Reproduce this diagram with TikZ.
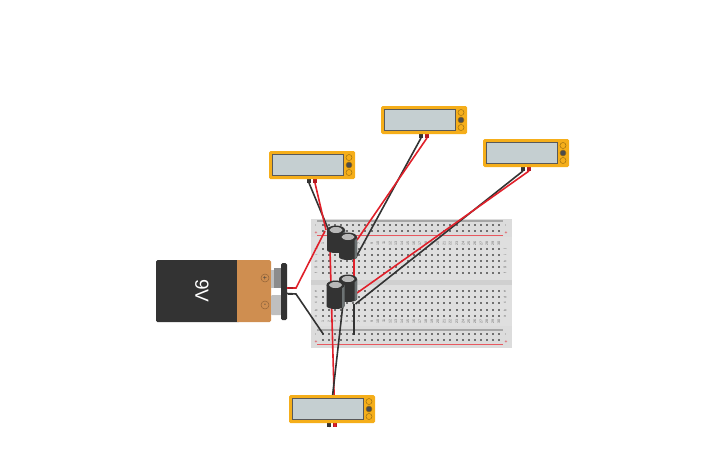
\documentclass[tikz,border=0pt]{standalone}
\usepackage{xcolor}
\usepackage{fontspec}
\setmainfont{Liberation Sans}
\usepackage{tikz}
\usetikzlibrary{backgrounds}
\usetikzlibrary{positioning}
\definecolor{wirered}{HTML}{E0202A}
\definecolor{wiredark}{HTML}{333333}
\definecolor{meterorange}{HTML}{F5AE1A}
\definecolor{screengrey}{HTML}{C5CFD1}
\definecolor{boardgrey}{HTML}{DFDFDF}
\definecolor{railgrey}{HTML}{DCDCDC}
\definecolor{gutter}{HTML}{D0D0D0}
\definecolor{holegrey}{HTML}{707070}
\definecolor{batteryorange}{HTML}{CF8E50}
\tikzset{meterbody/.style={draw=none,fill=meterorange,rounded corners=1.5pt,minimum width=86pt,minimum height=28pt,inner sep=0pt}}
\tikzset{meterscreen/.style={draw=black!65,fill=screengrey,line width=1pt,minimum width=71pt,minimum height=21pt,inner sep=0pt}}
\tikzset{meterknob/.style={circle,draw=black!35!meterorange,line width=0.5pt,minimum size=6pt,inner sep=0pt}}
\tikzset{probe/.style={minimum width=3.4pt,minimum height=4.5pt,inner sep=0pt,draw=none}}
\tikzset{wire/.style={line width=1.6pt}}
\tikzset{hole/.style={fill=holegrey}}
\tikzset{boardtext/.style={font=\fontsize{3.6}{3.6}\selectfont,text=black!60,inner sep=0pt}}
\tikzset{battmark/.style={circle,draw=black!30!batteryorange,line width=0.5pt,minimum size=8pt,inner sep=0pt,font=\fontsize{7}{7}\selectfont,text=black!75}}
\begin{document}
\begin{tikzpicture}[x=1pt,y=-1pt]
\useasboundingbox (0,0) rectangle (725,453);
% breadboard
\fill[boardgrey] (311,219) rectangle (512,348);
\fill[railgrey] (311,219) rectangle (512,237);
\fill[railgrey] (311,326) rectangle (512,348);
\fill[gutter] (311,280) rectangle (512,285);
\draw[black!35,line width=1.2pt] (317,221) -- (503,221);
\draw[black!35,line width=1.2pt] (317,330) -- (503,330);
\draw[wirered!75,line width=0.7pt] (317,235) -- (503,235);
\draw[wirered!75,line width=0.7pt] (317,344.5) -- (503,344.5);
\foreach \i in {0,...,29}
{
\pgfmathsetmacro{\hx}{round(323+6.07*\i)}
\foreach \y in {225,231,249,255,261,267,273,291,297,303,310,316,334,340}
 \fill[hole] (\hx-1,\y-1) rectangle +(2,2);
\pgfmathtruncatemacro{\num}{\i+1}
\node[boardtext,rotate=90] at (\hx,243) {\num};
\node[boardtext,rotate=90] at (\hx,321) {\num};
}
\foreach \y/\t in {249/j,255/i,261/h,267/g,273/f,291/e,297/d,303/c,310/b,316/a}
{
\node[boardtext,rotate=90] at (316,\y) {\t};
\node[boardtext,rotate=90] at (505,\y) {\t};
}
\foreach \y/\t in {225/--,334/--}
{
\node[boardtext,rotate=90] at (316,\y) {\t};
\node[boardtext,rotate=90] at (506,\y) {\t};
}
\foreach \y in {233.5,342.5}
{
\node[boardtext,text=wirered,font=\fontsize{5}{5}\selectfont] at (316,\y) {+};
\node[boardtext,text=wirered,font=\fontsize{5}{5}\selectfont] at (506,\y) {+};
}
% battery
\fill[wiredark,rounded corners=1.5pt] (156,260) rectangle (240,322);
\fill[batteryorange,rounded corners=1.5pt] (237,260) rectangle (271,322);
\fill[batteryorange] (237,260) rectangle (250,322);
\node[text=white,rotate=-90,font=\fontsize{19}{19}\selectfont,inner sep=0pt] (nine) at (202,291) {9V};
\node[battmark] (plus) at (265,278) {+};
\node[battmark] (minus) at (265,305) {-};
\fill[black!25] (271,270) rectangle (275,288);
\fill[black!45] (274,268) rectangle (282,288);
\fill[black!25,rounded corners=1pt] (271,295) rectangle (282,315);
\fill[wiredark,rounded corners=1.5pt] (281,263) rectangle (287,320);
% named ends
\coordinate (snapred) at (296,288);
\coordinate (snapdark) at (296,294);
\coordinate (railred) at (325,231);
\coordinate (raildark) at (323.5,334.5);
\coordinate (capa) at (329,231);
\coordinate (capb) at (326,230);
\coordinate (capc) at (357,240);
\coordinate (capd) at (355.5,258);
\coordinate (cape) at (357,293);
\coordinate (capf) at (355.5,304);
\coordinate (capg) at (330,250);
\coordinate (caph) at (343,304);
\coordinate (capi) at (354,258);
\coordinate (capj) at (354,276);
\coordinate (capk) at (354,304);
\coordinate (capl) at (354,334.5);
% meters, wires go under them
\foreach \name/\cx/\cy in {mone/312/165,mtwo/424/120,mthree/526/153,mfour/332/409}
{
\node[probe,fill=wiredark] (\name-dark) at (\cx-3,\cy+15.5) {};
\node[probe,fill=wirered!80!black] (\name-red) at (\cx+3,\cy+15.5) {};
}
\draw[wire,wirered] (mfour-red.south) -- (capg);
\draw[wire,wiredark] (mfour-dark.south) -- (caph);
\draw[wire,wiredark] (mone-dark.south) -- (capa);
\draw[wire,wirered] (mone-red.south) -- (capb);
\draw[wire,wiredark] (mtwo-dark.south) -- (capd);
\draw[wire,wirered] (mtwo-red.south) -- (capc);
\draw[wire,wiredark] (mthree-dark.south) -- (capf);
\draw[wire,wirered] (mthree-red.south) -- (cape);
\draw[wire,wirered] (capi) -- (capj);
\draw[wire,wiredark] (capk) -- (capl);
\draw[wire,wirered] (287,288) -- (snapred) -- (railred);
\draw[wire,wiredark] (287,293.5) -- (snapdark) -- (raildark);
\fill[wirered!80!black] (288,287) rectangle +(5,2);
\fill[wiredark] (288,292.5) rectangle +(5,2);
% capacitors
\foreach \cx/\ty/\by in {336/230/253,348/237/260,348/279/302,335.5/285/309}
{
\fill[wiredark] (\cx-9,\ty) -- (\cx-9,\by-3) arc[x radius=9,y radius=3,start angle=180,end angle=0] -- (\cx+9,\ty) -- cycle;
\fill[black!45!screengrey] (\cx+6.5,\ty+2) -- (\cx+6.5,\by-0.8) -- (\cx+9,\by-3) -- (\cx+9,\ty) -- cycle;
\fill[wiredark] (\cx,\ty) ellipse[x radius=9,y radius=4.5];
\fill[black!28] (\cx,\ty) ellipse[x radius=6.5,y radius=3];
}
% meters
\foreach \name/\cx/\cy in {mone/312/165,mtwo/424/120,mthree/526/153,mfour/332/409}
{
\node[meterbody] (\name) at (\cx,\cy) {};
\node[meterscreen] (\name-screen) at (\cx-4.5,\cy) {};
\node[meterknob] (\name-a) at (\cx+37,\cy-7.5) {};
\node[meterknob,fill=black!70] (\name-b) at (\cx+37,\cy) {};
\node[meterknob] (\name-c) at (\cx+37,\cy+7.5) {};
}
\end{tikzpicture}
\end{document}
